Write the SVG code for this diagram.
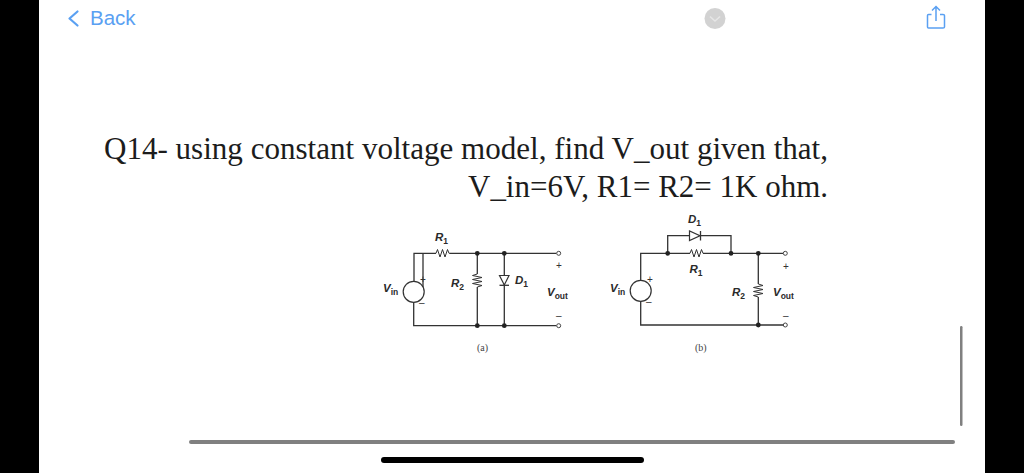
<svg xmlns="http://www.w3.org/2000/svg" width="1024" height="473" viewBox="0 0 1024 473">
<style>
.w{fill:none;stroke:#333;stroke-width:1.3}
.r{fill:none;stroke:#333;stroke-width:1;stroke-linejoin:miter}
.d{fill:#222}
.t{fill:#fff;stroke:#444;stroke-width:1}
.l{font-family:"Liberation Sans",Arial,sans-serif;font-weight:700;font-style:italic;font-size:11.5px;fill:#2a2a2a}
.s{font-size:8.5px;font-style:normal}
.p{font-family:"Liberation Sans",Arial,sans-serif;font-size:10px;fill:#333}
.c{font-family:"Liberation Serif","Times New Roman",serif;font-size:10px;fill:#444}
.q{font-family:"Liberation Serif","Times New Roman",serif;font-size:32px;fill:#1c1c1c}
</style>
<rect width="1024" height="473" fill="#fff"/>
<rect x="0" y="0" width="39" height="473" fill="#000"/>
<rect x="985" y="0" width="39" height="473" fill="#000"/>
<g id="toolbar">
<path d="M77.500 11.500L69.500 18.500L77.500 25.500" fill="none" stroke="#5AA0F2" stroke-width="2.200" stroke-linecap="round" stroke-linejoin="round"/>
<text x="90" y="25" font-family="'Liberation Sans',Arial,sans-serif" font-size="20.500" fill="#5AA0F2">Back</text>
<circle cx="715" cy="18.500" r="10.500" fill="#d2d2d2"/>
<path d="M710 16.500L715 21L720 16.500" fill="none" stroke="#e6e6e6" stroke-width="1.500"/>
<path d="M931.500 14.500H928.500Q927.500 14.500 927.500 15.500V27Q927.500 28 928.500 28H943Q944.500 28 944.500 27V15.500Q944.500 14.500 943 14.500H940M936 21V7M932 10.500L936 6.500L940 10.500" fill="none" stroke="#5AA0F2" stroke-width="1.500"/>
</g>
<g id="question">
<text class="q" x="104" y="159" textLength="724" lengthAdjust="spacingAndGlyphs">Q14- using constant voltage model, find V_out given that,</text>
<text class="q" x="468" y="197" textLength="360" lengthAdjust="spacingAndGlyphs">V_in=6V, R1= R2= 1K ohm.</text>
</g>
<g id="connectors">
<path class="w" d="M423 291V253.300H436M450 253.300H556.500M414 282V253.300H436"/>
<path class="w" d="M413.700 302.500V325.700H556.500M477.300 253.300V274M477.300 287V325.700M504.300 253.300V325.700"/>
<path class="w" d="M640.700 280.500V253.300H690M703 253.300H783M640.700 301V325H783M667.700 253.300V235.700H689M701 235.700H731V253.300M758.300 253.300V284M758.300 297V325"/>
</g>
<g id="R1a"><path class="r" d="M436 253.300L437.500 249.500L440 257L442.500 249.500L445 257L447.500 249.500L449 253.300L450 253.300"/><text class="l" x="435" y="241">R<tspan class="s" dy="2.500">1</tspan></text></g>
<g id="R2a"><path class="r" d="M477.300 274L472.500 275.500L482 277.500L472.500 279.500L482 281.500L472.500 283.500L482 285.500L477.300 287"/><text class="l" x="451" y="287">R<tspan class="s" dy="2.500">2</tspan></text></g>
<g id="D1a"><path fill="#fff" stroke="#333" stroke-width="1.200" d="M499.500 275.500H509L504.300 285Z"/><path class="w" d="M499.500 285.300H509"/><text class="l" x="515" y="284">D<tspan class="s" dy="2.500">1</tspan></text></g>
<g id="Vina"><circle cx="413.700" cy="291.800" r="10.500" fill="#fff" stroke="#333" stroke-width="1.200"/><text class="l" x="383" y="292">V<tspan class="s" dy="2.500">in</tspan></text><text class="p" x="420" y="283">+</text><text class="p" x="419" y="306">–</text></g>
<g id="Tera"><circle class="d" cx="477.300" cy="253.300" r="2.400"/><circle class="d" cx="504.300" cy="253.300" r="2.400"/><circle class="d" cx="477.300" cy="325.700" r="2.400"/><circle class="d" cx="504.300" cy="325.700" r="2.400"/><circle class="t" cx="558.700" cy="253.300" r="2"/><circle class="t" cx="558.700" cy="325.700" r="2"/><text class="p" x="556" y="269">+</text><text class="p" x="556" y="319">–</text><text class="l" x="547" y="296">V<tspan class="s" dy="2.500">out</tspan></text><text class="c" x="477" y="351">(a)</text></g>
<g id="R1b"><path class="r" d="M690 253.300L691.500 249.500L694 257L696.500 249.500L699 257L701.500 249.500L703 253.300"/><text class="l" x="689.500" y="273">R<tspan class="s" dy="2.500">1</tspan></text></g>
<g id="D1b"><path fill="#fff" stroke="#333" stroke-width="1.200" d="M689.500 231V240.500L700 235.700Z"/><path class="w" d="M700.500 231V240.500"/><text class="l" x="688" y="223">D<tspan class="s" dy="2.500">1</tspan></text></g>
<g id="R2b"><path class="r" d="M758.300 284L763 285.500L753.500 287.500L763 289.500L753.500 291.500L763 293.500L753.500 295.500L758.300 297"/><text class="l" x="732" y="296">R<tspan class="s" dy="2.500">2</tspan></text></g>
<g id="Vinb"><circle cx="640.700" cy="290.800" r="10.500" fill="#fff" stroke="#333" stroke-width="1.200"/><text class="l" x="610" y="292">V<tspan class="s" dy="2.500">in</tspan></text><text class="p" x="647" y="283">+</text><text class="p" x="646" y="305">–</text></g>
<g id="Terb"><circle class="d" cx="667.700" cy="253.300" r="2.400"/><circle class="d" cx="731" cy="253.300" r="2.400"/><circle class="d" cx="758.300" cy="253.300" r="2.400"/><circle class="d" cx="758.300" cy="325" r="2.400"/><circle class="t" cx="785.300" cy="253.300" r="2"/><circle class="t" cx="785.300" cy="325" r="2"/><text class="p" x="783" y="270">+</text><text class="p" x="783" y="319">–</text><text class="l" x="773" y="296">V<tspan class="s" dy="2.500">out</tspan></text><text class="c" x="695" y="351">(b)</text></g>
<g id="chrome">
<rect x="960" y="326" width="2.500" height="100" rx="1.200" fill="#808080"/>
<rect x="189" y="440" width="766" height="4" rx="2" fill="#808080"/>
<rect x="381" y="457" width="263" height="6" rx="3" fill="#000"/>
</g>
</svg>
